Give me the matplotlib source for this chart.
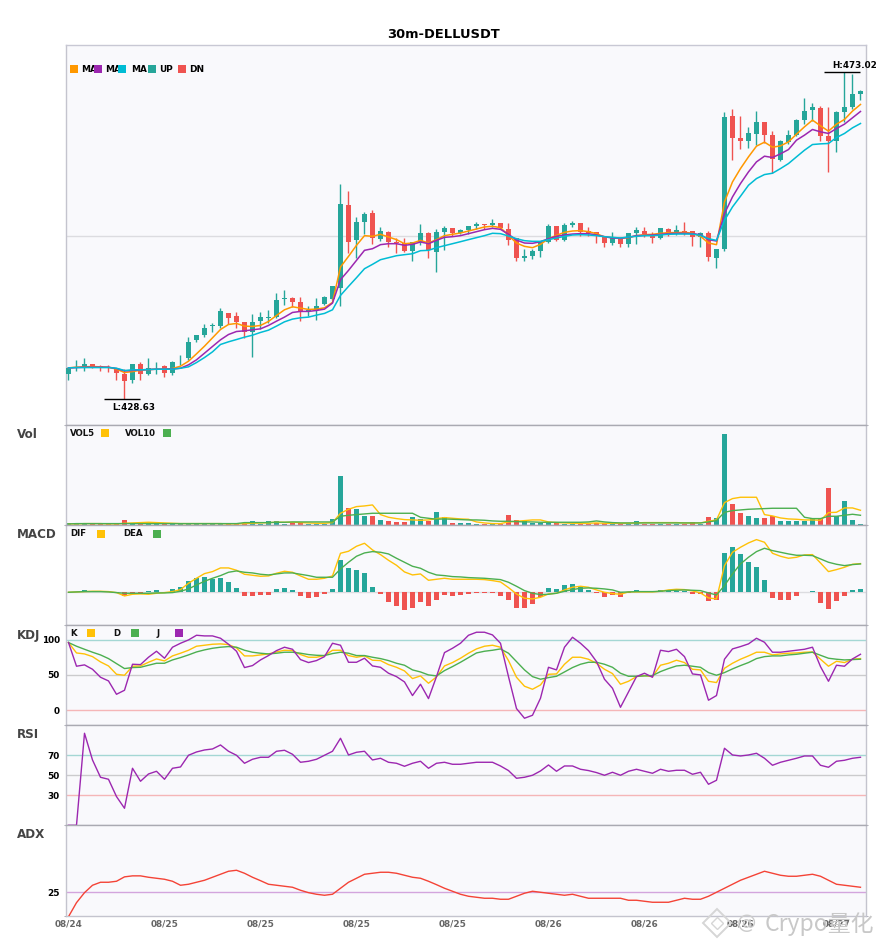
import numpy as np
import matplotlib
matplotlib.use("Agg")
import matplotlib.pyplot as plt
from matplotlib.patches import Rectangle
from matplotlib.lines import Line2D

W, H = 885, 950

opens = [432.00,432.81,432.90,433.45,433.18,433.04,432.77,432.09,431.28,433.45,
         432.09,433.09,433.18,432.23,433.90,434.13,436.70,437.38,438.52,438.47,
         440.24,439.83,439.01,437.66,439.15,439.60,439.69,442.18,442.27,441.73,
         440.51,440.64,441.46,442.14,443.63,454.90,450.14,452.59,453.81,450.28,
         451.23,449.87,449.74,448.65,449.74,451.10,448.52,451.23,451.77,451.10,
         451.50,452.14,452.32,452.18,452.45,451.64,450.42,447.79,447.97,448.65,
         449.87,452.05,450.14,452.27,452.45,451.37,451.23,450.69,449.74,450.28,
         449.60,451.10,451.37,450.69,450.42,451.64,450.96,451.37,451.37,450.55,
         451.10,447.70,448.92,466.98,463.99,463.58,464.53,466.16,464.40,461.01,
         463.45,464.40,466.44,467.79,468.06,464.26,463.58,467.52,468.20,469.96]
highs = [433.04,433.95,434.13,433.45,433.27,433.31,432.90,432.77,433.45,433.63,
         434.26,433.72,433.31,433.85,434.67,437.11,437.38,438.74,438.88,440.91,
         440.24,440.37,439.01,440.10,440.37,440.64,442.95,443.36,442.41,442.41,
         441.19,442.27,442.54,443.90,457.75,456.80,453.27,453.95,454.22,451.91,
         451.37,450.42,450.42,449.87,452.32,451.23,451.64,452.05,451.77,451.64,
         452.05,452.59,452.32,452.97,452.45,452.45,450.42,448.92,448.92,450.01,
         452.32,452.05,452.45,452.72,452.45,451.91,451.23,450.69,451.23,450.42,
         451.10,451.91,451.91,451.23,451.77,451.77,452.18,452.59,451.37,451.23,
         451.37,448.92,467.52,467.93,466.98,465.48,467.66,466.16,464.94,463.72,
         465.08,466.57,469.42,468.74,468.34,468.20,467.66,473.02,472.68,470.51]
lows = [431.28,432.41,432.41,432.81,432.50,432.36,431.28,428.63,430.78,431.28,
        431.95,432.09,431.68,431.95,433.31,433.99,436.43,436.98,437.66,438.33,
        438.74,438.33,436.84,434.40,438.06,438.88,439.56,441.32,441.05,439.15,
        439.83,439.28,441.32,442.00,441.19,448.38,447.70,450.96,449.60,450.01,
        449.19,448.38,448.52,447.29,449.47,447.70,445.80,448.79,450.69,450.96,
        450.96,451.64,451.64,451.91,451.64,449.47,447.29,447.29,447.57,447.84,
        449.74,450.01,450.01,451.91,450.69,450.69,449.74,449.19,449.47,449.19,
        449.19,449.60,450.55,449.74,450.28,450.69,450.82,450.82,449.33,449.19,
        447.29,446.34,448.65,461.01,462.50,462.63,463.04,463.31,459.24,460.87,
        463.18,464.26,465.89,466.30,463.58,459.38,462.09,466.16,467.93,469.15]
closes = [432.90,432.90,433.45,433.04,433.04,432.95,432.23,431.14,433.45,432.09,
          432.90,433.18,432.23,433.72,433.99,436.43,437.38,438.20,438.61,440.51,
          439.56,439.01,437.66,439.01,439.69,439.69,442.00,442.27,441.73,440.37,
          440.64,441.19,442.41,443.90,455.03,449.87,452.59,453.67,450.42,451.37,
          449.87,449.74,448.65,449.87,451.10,448.79,451.23,451.77,451.10,451.50,
          452.05,452.32,452.23,452.45,451.77,450.14,447.70,447.97,448.65,449.87,
          452.05,450.14,452.18,452.45,451.23,451.10,450.82,449.74,450.42,449.60,
          451.10,451.50,450.96,450.42,451.77,450.96,451.50,451.10,450.55,451.10,
          447.84,448.92,466.84,463.99,463.58,464.67,466.16,464.40,461.14,463.58,
          464.40,466.44,467.66,468.20,464.26,463.58,467.52,468.20,469.96,470.37]

ma_fast = [432.86,432.95,433.00,433.04,433.00,432.95,432.68,432.23,432.36,432.54,
           432.63,432.68,432.68,432.77,433.09,433.76,434.76,435.80,436.93,438.06,
           438.74,438.88,438.52,438.47,438.61,439.15,439.96,440.73,441.14,440.96,
           440.78,440.82,441.00,441.73,446.53,447.97,449.47,450.78,450.69,450.96,
           450.60,450.24,449.69,449.78,450.14,449.78,450.24,450.78,450.96,451.14,
           451.41,451.68,451.96,452.05,451.86,450.82,449.78,449.33,449.15,449.60,
           450.37,450.82,451.23,451.41,451.46,451.32,451.05,450.60,450.51,450.42,
           450.51,450.78,450.91,450.96,451.10,451.19,451.19,451.23,451.10,450.69,
           449.78,449.56,455.35,458.06,459.87,461.46,462.91,463.45,462.77,462.95,
           463.49,464.53,465.53,466.44,465.67,464.94,465.89,466.53,467.66,468.56]
ma_mid = [432.86,432.90,432.95,432.95,432.95,432.95,432.77,432.45,432.50,432.59,
          432.63,432.68,432.68,432.72,432.81,433.27,433.95,434.85,435.76,436.66,
          437.38,437.79,437.88,438.02,438.15,438.61,439.19,439.74,440.37,440.51,
          440.51,440.64,440.82,441.64,444.81,446.07,447.43,448.79,449.01,449.56,
          449.69,449.69,449.47,449.60,449.92,449.69,450.14,450.55,450.64,450.78,
          451.05,451.32,451.59,451.77,451.64,450.96,450.19,449.78,449.74,449.96,
          450.37,450.69,450.87,451.00,451.05,451.05,450.87,450.64,450.46,450.42,
          450.55,450.78,450.82,450.87,450.96,451.05,451.10,451.10,451.05,450.91,
          450.24,450.05,453.77,456.03,457.84,459.42,460.78,461.55,461.37,461.87,
          462.45,463.72,464.40,465.17,464.85,464.63,465.30,465.89,466.75,467.61]
ma_slow = [432.86,432.90,432.90,432.90,432.90,432.90,432.81,432.50,432.59,432.59,
           432.63,432.68,432.68,432.68,432.81,433.00,433.58,434.26,435.03,436.03,
           436.39,436.70,437.02,437.29,437.66,437.97,438.52,439.10,439.47,439.65,
           439.74,440.01,440.24,440.73,442.68,443.90,445.08,446.30,446.89,447.52,
           447.79,448.06,448.20,448.33,448.74,448.79,449.15,449.42,449.69,449.96,
           450.24,450.51,450.78,451.10,451.05,450.73,450.37,450.10,450.01,450.01,
           450.24,450.46,450.69,450.87,450.91,450.87,450.78,450.64,450.55,450.46,
           450.60,450.69,450.78,450.78,450.87,450.96,451.00,451.00,451.00,450.82,
           450.37,450.14,452.86,454.67,456.12,457.61,458.52,459.06,459.24,459.87,
           460.55,461.46,462.36,463.13,463.22,463.27,464.08,464.63,465.39,465.98]

volume = [4,2,4,2,1,4,3,14,4,3,3,2,3,3,3,4,3,3,2,3,
          3,2,4,10,3,10,10,3,4,4,3,3,3,16,146,50,47,26,26,14,
          10,8,8,22,17,10,38,22,5,5,5,2,3,3,3,29,14,12,6,6,
          6,5,3,3,3,3,6,4,3,3,3,11,3,3,3,3,3,3,8,3,
          23,20,272,62,35,26,20,20,26,11,11,11,12,20,20,110,26,71,14,2]
vol5 = [2,2,3,3,3,2,2,4,5,6,7,6,5,4,3,3,3,3,3,3,
        2,2,3,4,5,6,7,7,7,6,5,4,4,6,34,46,54,56,59,30,
        22,18,15,14,13,14,18,21,19,17,16,8,5,3,3,8,10,12,14,14,
        8,6,5,4,4,4,5,4,4,4,4,5,6,6,6,6,6,5,5,5,
        10,14,66,78,82,82,82,30,26,20,17,16,14,14,13,36,37,50,50,43]
vol10 = [2,3,3,3,3,3,3,3,3,3,3,3,3,3,3,3,3,3,3,3,
         3,3,6,6,6,6,7,7,8,8,8,8,8,8,25,28,30,32,34,34,
         34,34,34,34,22,19,16,17,16,15,14,14,13,11,10,10,9,8,8,7,
         7,7,7,7,7,8,11,8,6,5,5,5,5,5,5,5,5,5,5,5,
         8,12,37,42,44,46,47,48,49,49,49,49,22,18,18,25,25,28,31,28]

macd_hist = [1,1,7,3,3,2,-2,-12,-1,-6,3,7,1,10,16,33,42,46,40,43,
             31,13,-11,-11,-8,-8,9,13,7,-11,-17,-14,-5,9,97,73,67,58,16,-5,
             -28,-41,-53,-47,-29,-41,-23,-8,-11,-8,-5,-2,-2,-2,-11,-23,-47,-47,-35,-14,
             13,10,22,25,16,7,-2,-14,-8,-14,-2,7,2,0,7,5,5,5,-4,-4,
             -26,-23,118,136,115,91,76,37,-17,-23,-23,-11,0,3,-32,-50,-26,-11,7,10]
dif = [0,1,2,3,3,2,-1,-11,-6,-5,-6,-3,-1,2,8,27,42,56,62,73,
       73,66,54,51,48,49,57,63,60,49,39,39,42,49,117,123,138,147,127,113,
       96,81,61,52,55,36,39,42,39,39,39,39,38,35,31,14,-5,-18,-20,-15,
       -5,-3,7,15,18,15,7,0,-4,-6,1,1,1,1,3,7,9,8,4,-2,
       -17,-20,80,120,135,148,158,150,117,108,102,105,112,113,88,62,68,75,84,86]
dea = [0,1,2,2,2,1,-1,-3,-3,-3,-3,-2,-2,-1,3,10,22,33,42,50,
       60,64,60,58,54,52,55,58,58,54,50,45,45,45,70,90,108,118,122,120,
       115,102,90,78,72,60,52,50,47,46,44,43,42,40,38,30,18,5,-3,-7,
       -6,-3,3,8,12,13,12,10,7,0,1,2,2,2,3,5,6,7,6,5,
       -2,-8,20,55,85,105,122,132,125,120,115,111,111,110,100,90,84,80,83,85]

kdj_k = [95.8,81.1,79.7,75.9,68.4,62.7,50.9,49.5,62.3,62.7,67.9,72.6,69.8,76.9,80.7,84.9,90.6,92.0,93.4,93.9,
         92.9,88.2,76.9,76.9,78.3,79.7,82.5,84.9,84.4,78.8,75.0,75.0,77.4,84.9,84.9,77.4,75.0,76.9,70.8,70.3,
         64.6,60.8,55.7,44.8,48.6,38.2,47.2,62.7,67.5,73.6,80.7,86.8,90.6,92.0,89.2,70.3,46.7,34.0,29.7,35.8,
         50.9,51.4,65.1,75.0,75.0,72.2,66.5,58.0,51.9,36.8,41.0,47.6,49.1,47.6,63.7,66.5,70.8,67.5,58.0,57.1,
         41.0,39.2,59.4,66.5,72.2,76.9,82.1,82.1,78.3,79.7,80.7,81.1,82.1,82.5,72.2,62.3,69.3,67.5,72.2,73.1]
kdj_d = [95.8,90.6,86.3,82.1,78.3,73.1,66.0,59.0,60.4,60.8,63.7,66.5,66.5,71.2,74.5,78.3,82.5,85.4,87.7,89.2,
         90.1,89.2,84.9,82.1,80.7,79.7,80.7,82.1,82.1,80.7,78.8,77.8,77.4,80.2,82.1,80.7,77.4,77.4,75.0,73.1,
         70.3,66.5,63.7,57.1,54.2,50.0,48.6,56.1,61.8,67.9,74.5,81.1,83.5,84.9,86.8,80.7,68.9,57.1,47.6,43.9,
         46.2,48.1,54.2,60.4,65.1,67.9,67.9,65.1,60.8,52.4,48.1,48.1,48.6,49.1,54.7,59.0,62.7,63.7,62.3,60.8,
         53.3,49.5,53.3,58.5,63.2,67.5,73.1,75.9,76.9,76.9,78.3,79.2,80.7,82.1,77.8,73.6,72.2,71.2,71.7,72.2]
kdj_j = [95.8,62.3,64.2,58.0,46.7,41.5,22.6,28.3,65.1,64.6,75.0,83.5,73.6,89.2,94.8,99.5,106.1,105.2,105.2,101.9,
         93.4,83.5,60.4,63.2,71.2,77.4,84.4,89.2,86.3,71.7,67.5,70.3,75.9,94.8,92.0,67.9,67.9,73.6,62.7,60.8,
         52.4,47.6,40.1,20.8,36.8,16.5,47.6,81.6,87.7,94.8,106.1,110.4,110.4,106.6,94.8,47.6,2.4,-11.3,-7.1,17.0,
         60.8,57.1,89.2,103.3,94.8,84.4,68.9,43.9,31.1,4.2,25.9,47.6,52.4,46.7,84.9,83.0,86.3,75.9,51.4,50.0,
         14.2,20.8,72.2,86.8,90.1,93.9,101.9,96.2,82.1,82.1,83.5,84.9,86.3,89.2,61.8,41.0,63.7,62.3,72.6,79.2]

rsi = [0,0,92,65.3,48,46,28.7,17,57,44,51.3,54,46,57,58.3,70,73.3,75.3,76.3,80.3,
       74,70,62,66,68,68,74,75,71,63,64,66,70,74,87,70.3,73,74,65.3,67,
       63,62,59,62,64,57,62,63,61,61,62,63,63,63,59.3,54.7,47,48,50,54.3,
       60.3,54,59.3,59.3,56,54.7,52.7,50,53,50,54,56,54,52,56,54,55,55,51,53,
       41,45,77,70.3,69.3,70.3,72,67,60,63,65,67,69.3,69.3,60,58,64,65,67,68]
adx = [12.8,19.8,24.8,28.5,30,30,30.5,32.7,33.2,33.2,32.5,32,31.5,30.5,28.5,29,30,31,32.5,34,
       35.5,36,34.5,32.5,30.8,29,28.5,28,27.5,26,24.8,24,23.5,24,27,30,32,34,34.5,35,
       35,34.5,33.5,32.5,32,30.5,28.8,27,25.5,24,23,22.5,22,22,21.5,21.5,23,24.5,25.5,25,
       24.5,24,23.5,24,23,22,22,22,22,22,21,21,20.5,20,20,20,21,22,21.5,21.5,
       23,25,27,29,31,32.5,34,35.5,34.5,33.5,33,33,33.5,34,33,31,29,28.5,28,27.5]

date_labels = ["08/24", "08/25", "08/25", "08/25", "08/25", "08/26", "08/26", "08/26", "08/27"]
date_idx = list(range(0, 100, 12))

ORANGE, PURPLE, CYAN = "#ff9800", "#9c27b0", "#00bcd4"
UP, DN = "#26a69a", "#ef5350"
YEL, GRN = "#ffc107", "#4caf50"
BG = "#f9f9fc"

x = np.arange(100)
o, h, l, c = map(np.array, (opens, highs, lows, closes))
colors = [UP if cc >= oo else DN for oo, cc in zip(o, c)]

fig = plt.figure(figsize=(W / 100, H / 100), dpi=100, facecolor="white")


def make_ax(top, bottom, ylim):
    ax = fig.add_axes([65.5 / W, 1 - bottom / H, 800.5 / W, (bottom - top) / H], facecolor=BG)
    ax.set_xlim(-0.375, 99.69)
    ax.set_ylim(*ylim)
    ax.set_xticks([])
    ax.set_yticks([])
    for s in ax.spines.values():
        s.set_color("#c4c4ce")
        s.set_linewidth(1)
    ax.spines["top"].set_color("#aaaab2")
    ax.yaxis.set_ticks([ylim[0]], minor=True)
    ax.tick_params(axis="y", which="minor", length=1.5, width=0.7, color="#aaaab2",
                   left=True, right=True, labelleft=False)
    return ax


def px_text(xp, yp, s, **kw):
    kw.setdefault("fontweight", "bold")
    kw.setdefault("va", "center")
    fig.text(xp / W, 1 - yp / H, s, **kw)


def swatch(xp, yp, color, size=8):
    fig.patches.append(Rectangle((xp / W, 1 - (yp + size) / H), size / W, size / H,
                                 transform=fig.transFigure, facecolor=color, edgecolor="none", zorder=5))


def ref_line(ax, val, color, alpha=0.4):
    ax.axhline(val, color=color, lw=1, alpha=alpha, zorder=1)


# main candle panel
ax = make_ax(45, 424.6, (425.17, 476.62))
ax.spines["top"].set_color("#c8c8d4")
ax.axhline(450.76, color="#dcdce0", lw=1, zorder=1)
wicks = ax.vlines(x, l, h, colors=colors, lw=1.0, zorder=2)
wicks.set_snap(True)
ax.bar(x, np.abs(c - o), bottom=np.minimum(o, c), width=0.74, color=colors, zorder=3)
ax.plot(x, ma_fast, color=ORANGE, lw=1.1, zorder=4)
ax.plot(x, ma_mid, color=PURPLE, lw=1.1, zorder=4)
ax.plot(x, ma_slow, color=CYAN, lw=1.1, zorder=4)

i_lo, i_hi = int(np.argmin(l)), int(np.argmax(h))
ax.hlines(l[i_lo], i_lo - 2.6, i_lo + 1.9, color="black", lw=1, zorder=5)
ax.hlines(h[i_hi], i_hi - 2.6, i_hi + 1.9, color="black", lw=1, zorder=5)
ax.annotate(f"L:{l[i_lo]:.2f}", (i_lo, l[i_lo]), xytext=(6.7, -6), textcoords="offset points",
            ha="center", va="center", fontsize=6.3, fontweight="bold")
ax.annotate(f"H:{h[i_hi]:.2f}", (i_hi, h[i_hi]), xytext=(7.2, 4.7), textcoords="offset points",
            ha="center", va="center", fontsize=6.3, fontweight="bold")

# volume
ax_v = make_ax(424.6, 524.6, (0, 300))
ax_v.bar(x, volume, width=0.74, color=colors, zorder=2)
ax_v.plot(x, vol5, color=YEL, lw=1.0, zorder=3)
ax_v.plot(x, vol10, color=GRN, lw=1.0, zorder=3)

# macd
ax_m = make_ax(524.6, 624.6, (-97, 203))
ax_m.axhline(0, color="#dcdce0", lw=1, zorder=1)
ax_m.bar(x, macd_hist, width=0.74, color=[UP if v >= 0 else DN for v in macd_hist], zorder=2)
ax_m.plot(x, dif, color=YEL, lw=1.0, zorder=3)
ax_m.plot(x, dea, color=GRN, lw=1.0, zorder=3)

# kdj
ax_k = make_ax(624.6, 724.6, (-20.3, 121.2))
ref_line(ax_k, 100, UP)
ref_line(ax_k, 50, "#888888")
ref_line(ax_k, 0, DN)
ax_k.plot(x, kdj_k, color=YEL, lw=1.0, zorder=3)
ax_k.plot(x, kdj_d, color=GRN, lw=1.0, zorder=3)
ax_k.plot(x, kdj_j, color=PURPLE, lw=1.0, zorder=3)

# rsi
ax_r = make_ax(724.6, 824.6, (0.67, 100.67))
ref_line(ax_r, 70, UP)
ref_line(ax_r, 50, "#888888")
ref_line(ax_r, 30, DN)
ax_r.plot(x, rsi, color=PURPLE, lw=1.0, zorder=3)

# adx
ax_a = make_ax(824.6, 915.6, (13.33, 58.83))
ref_line(ax_a, 25, PURPLE)
ax_a.plot(x, adx, color="#f44336", lw=1.0, zorder=3)
ax_a.set_xticks(date_idx)
ax_a.set_xticklabels(date_labels, fontsize=6.4, fontweight="bold", color="#666666")
ax_a.tick_params(axis="x", length=0, pad=2.5)

for a, vals in ((ax_k, [100, 50, 0]), (ax_r, [70, 50, 30]), (ax_a, [25])):
    a.set_yticks(vals)
    a.set_yticklabels([str(v) for v in vals], fontsize=6.4, fontweight="bold")
    a.tick_params(axis="y", which="major", length=0, pad=4)

# panel names and legends
px_text(443, 34, "30m-DELLUSDT", ha="center", fontsize=9.4)
for name, yp in (("Vol", 435), ("MACD", 535), ("KDJ", 635), ("RSI", 735), ("ADX", 835)):
    px_text(17, yp, name, fontsize=8.6, color="#444444")

for sx, color, tx, label in ((70, ORANGE, 81, "MA"), (94, PURPLE, 105, "MA"), (118, CYAN, 131, "MA"),
                             (148, UP, 159, "UP"), (178, DN, 189, "DN")):
    px_text(tx, 69, label, fontsize=6.4)
    swatch(sx, 65, color)

for tx, label, sx, color, yp in ((70, "VOL5", 101, YEL, 433.5), (125, "VOL10", 163, GRN, 433.5),
                                 (70, "DIF", 97, YEL, 534), (123, "DEA", 153, GRN, 534),
                                 (70, "K", 87, YEL, 633.5), (113, "D", 131, GRN, 633.5),
                                 (157, "J", 175, PURPLE, 633.5)):
    px_text(tx, yp, label, fontsize=6.2, color="#111111")
    swatch(sx, yp - 4.5, color)

# watermark
for ms, mew in ((14, 1.4), (6, 1.0)):
    fig.add_artist(Line2D([717 / W], [1 - 923 / H], marker="D", ms=ms, mfc="none", mec="#d6d6d6",
                          mew=mew, transform=fig.transFigure, zorder=6))
fig.text(737 / W, 1 - 924 / H, "@", fontsize=14, color="#cccccc", va="center", zorder=6)
fig.text(765 / W, 1 - 924 / H, "Crypo量化", fontsize=16.5, color="#c8c8c8", va="center", zorder=6,
         family=["Noto Sans CJK SC", "DejaVu Sans"])

fig.savefig("out.png", dpi=100)
